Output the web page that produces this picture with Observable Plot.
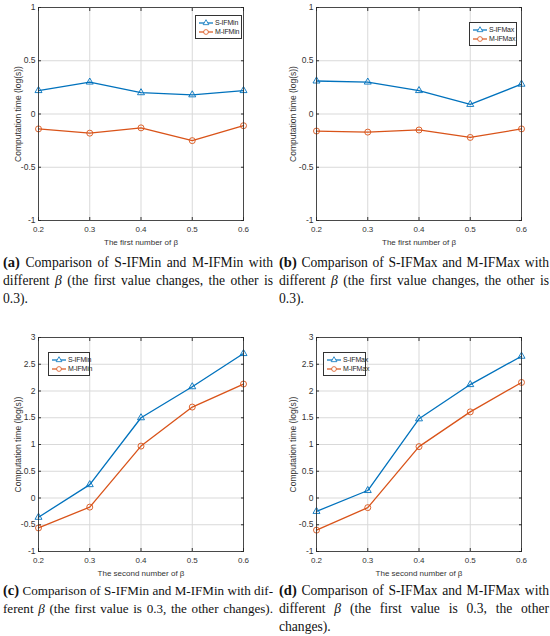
<!DOCTYPE html>
<html>
<head>
<meta charset="utf-8">
<script src="https://cdn.jsdelivr.net/npm/d3@7"></script>
<script src="https://cdn.jsdelivr.net/npm/@observablehq/plot@0.6"></script>
<style>
  body { margin: 0; background: #fff; }
  #page { position: relative; width: 550px; height: 636px; overflow: hidden; }
  .chart { position: absolute; width: 275px; }
  .legend {
    position: absolute; background: #fff; border: 1px solid #333;
    font-family: "Liberation Sans", Arial, sans-serif; letter-spacing: -0.2px;
    font-size: 7px; color: #262626; box-sizing: border-box; padding: 2px 2px;
    white-space: nowrap;
  }
  .legend .item { display: flex; align-items: center; height: 9px; }
  .legend svg { margin-right: 1px; flex: none; }
  .caption {
    position: absolute; width: 270px;
    font-family: "Liberation Serif", "DejaVu Serif", serif;
    font-size: 13.6px; line-height: 18px; color: #111;
  }
  .caption div { text-align: justify; text-align-last: justify; white-space: nowrap; }
  .caption div.last { text-align-last: left; }
  .caption b { font-size: 14.5px; }
</style>
</head>
<body>
<div id="page"></div>
<script>
// values
const betaValues = [0.2, 0.3, 0.4, 0.5, 0.6];
const sMinFirst = [0.22, 0.30, 0.20, 0.18, 0.22];
const mMinFirst = [-0.14, -0.18, -0.13, -0.25, -0.11];
const sMaxFirst = [0.31, 0.30, 0.22, 0.09, 0.28];
const mMaxFirst = [-0.16, -0.17, -0.15, -0.22, -0.14];
const sMinSecond = [-0.36, 0.25, 1.50, 2.08, 2.70];
const mMinSecond = [-0.56, -0.17, 0.97, 1.70, 2.13];
const sMaxSecond = [-0.25, 0.14, 1.48, 2.12, 2.65];
const mMaxSecond = [-0.60, -0.18, 0.96, 1.61, 2.16];
const yTicksFirst = [-1, -0.5, 0, 0.5, 1];
const yTicksSecond = [-1, -0.5, 0, 0.5, 1, 1.5, 2, 2.5, 3];

const blue = "#0072BD";
const orange = "#D95319";
const axisColor = "#262626";
const tickFont = "'Liberation Sans', Arial, sans-serif";

const page = d3.select("#page");

function panel(cfg) {
  let sData = betaValues.map((x, i) => ({x, y: cfg.s[i]}));
  let mData = betaValues.map((x, i) => ({x, y: cfg.m[i]}));

  let chart = Plot.plot({
    width: 275,
    height: cfg.height,
    marginTop: cfg.marginTop,
    marginBottom: 30,
    marginLeft: cfg.marginLeft,
    marginRight: 275 - cfg.marginLeft - 205,
    x: {domain: [0.2, 0.6]},
    y: {domain: [cfg.yTicks[0], cfg.yTicks[cfg.yTicks.length - 1]]},
    style: {
      fontFamily: tickFont,
      fontSize: "8px",
      color: "#333",
      background: "transparent",
      overflow: "visible"
    },
    marks: [
      Plot.gridX(betaValues, {stroke: "#d9d9d9", strokeOpacity: 1}),
      Plot.gridY(cfg.yTicks, {stroke: "#d9d9d9", strokeOpacity: 1}),
      Plot.axisX(betaValues, {
        anchor: "bottom", tickSize: -3, tickPadding: 9,
        tickFormat: d => d.toFixed(1),
        label: cfg.xLabel, labelAnchor: "center", labelArrow: "none", labelOffset: 24,
        fontSize: 8
      }),
      Plot.axisX(betaValues, {anchor: "top", tickSize: -3, tickFormat: () => "", label: null}),
      Plot.axisY(cfg.yTicks, {
        anchor: "left", tickSize: -3, tickPadding: 6,
        tickFormat: d => String(d),
        label: "Computation time (log(s))", labelAnchor: "center", labelArrow: "none",
        labelOffset: cfg.marginLeft - 14,
        fontSize: 8.5
      }),
      Plot.axisY(cfg.yTicks, {anchor: "right", tickSize: -3, tickFormat: () => "", label: null}),
      Plot.line(sData, {x: "x", y: "y", stroke: blue, strokeWidth: 1.3}),
      Plot.dot(sData, {x: "x", y: "y", symbol: "triangle", r: 2.6, stroke: blue, strokeWidth: 0.9, fill: "none"}),
      Plot.line(mData, {x: "x", y: "y", stroke: orange, strokeWidth: 1.3}),
      Plot.dot(mData, {x: "x", y: "y", symbol: "circle", r: 3, stroke: orange, strokeWidth: 0.9, fill: "none"}),
      Plot.frame({stroke: axisColor, strokeWidth: 0.8})
    ]
  });

  page.append("div")
    .attr("class", "chart")
    .style("left", cfg.left + "px")
    .style("top", cfg.top + "px")
    .append(() => chart);

  // legend box drawn on top of the plot area
  let legend = page.append("div")
    .attr("class", "legend")
    .style("left", cfg.legend[0] + "px")
    .style("top", cfg.legend[1] + "px")
    .style("width", cfg.legend[2] + "px");
  [[cfg.names[0], blue, "triangle"], [cfg.names[1], orange, "circle"]].forEach(([name, color, sym]) => {
    let item = legend.append("div").attr("class", "item");
    let svg = item.append("svg").attr("width", 16).attr("height", 8);
    svg.append("line").attr("x1", 1).attr("x2", 15).attr("y1", 4).attr("y2", 4)
      .attr("stroke", color).attr("stroke-width", 1.2);
    svg.append("path")
      .attr("d", d3.symbol(sym === "triangle" ? d3.symbolTriangle : d3.symbolCircle, sym === "triangle" ? 14 : 18)())
      .attr("transform", "translate(8,4)")
      .attr("fill", "#fff").attr("stroke", color).attr("stroke-width", 0.8);
    item.append("span").text(name);
  });

  let cap = page.append("div")
    .attr("class", "caption")
    .style("left", cfg.capLeft + "px")
    .style("top", cfg.capTop + "px")
    .style("font-size", (cfg.capSize || 13.6) + "px");
  cfg.caption.forEach((line, i) => {
    let row = cap.append("div").classed("last", i === cfg.caption.length - 1 && !cfg.fullLast);
    if (i === 0) row.append("b").text(cfg.tag);
    row.append("span").html(line);
  });
}

panel({
  left: 0, top: 0, height: 250, marginTop: 7, marginLeft: 38,
  s: sMinFirst, m: mMinFirst, yTicks: yTicksFirst,
  xLabel: "The first number of β", names: ["S-IFMin", "M-IFMin"],
  legend: [195, 15, 47],
  capLeft: 3, capTop: 253, tag: "(a)",
  caption: [" Comparison of S-IFMin and M-IFMin with", "different <i>β</i> (the first value changes, the other is", "0.3)."]
});
panel({
  left: 275, top: 0, height: 250, marginTop: 7, marginLeft: 41,
  s: sMaxFirst, m: mMaxFirst, yTicks: yTicksFirst,
  xLabel: "The first number of β", names: ["S-IFMax", "M-IFMax"],
  legend: [469, 22, 48],
  capLeft: 279, capTop: 253, tag: "(b)",
  caption: [" Comparison of S-IFMax and M-IFMax with", "different <i>β</i> (the first value changes, the other is", "0.3)."]
});
panel({
  left: 0, top: 320, height: 261, marginTop: 17, marginLeft: 38,
  s: sMinSecond, m: mMinSecond, yTicks: yTicksSecond,
  xLabel: "The second number of β", names: ["S-IFMin", "M-IFMin"],
  legend: [48, 352, 42],
  capLeft: 3, capTop: 581, tag: "(c)", fullLast: true, capSize: 13.1,
  caption: [" Comparison of S-IFMin and M-IFMin with dif-", "ferent <i>β</i> (the first value is 0.3, the other changes)."]
});
panel({
  left: 275, top: 320, height: 261, marginTop: 17, marginLeft: 41,
  s: sMaxSecond, m: mMaxSecond, yTicks: yTicksSecond,
  xLabel: "The second number of β", names: ["S-IFMax", "M-IFMax"],
  legend: [323, 352, 43],
  capLeft: 279, capTop: 581, tag: "(d)",
  caption: [" Comparison of S-IFMax and M-IFMax with", "different <i>β</i> (the first value is 0.3, the other", "changes)."]
});
</script>
</body>
</html>
